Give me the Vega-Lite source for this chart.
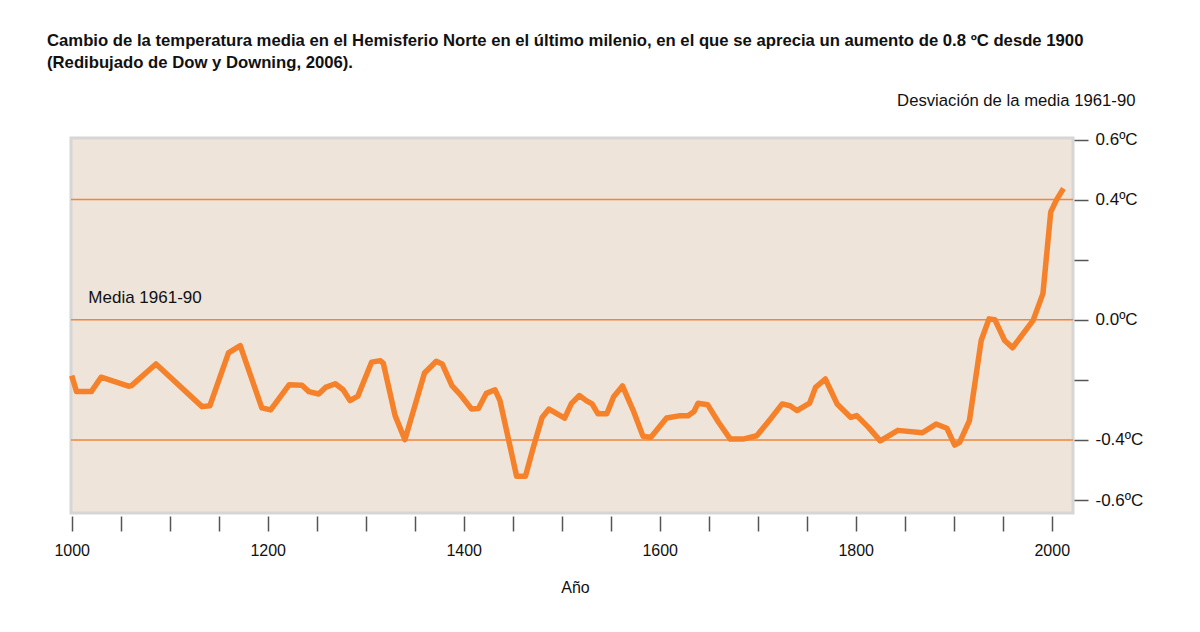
{
  "$schema": "https://vega.github.io/schema/vega-lite/v6.json",
  "autosize": {"type": "none"},
  "width": 1002,
  "height": 375,
  "padding": {"left": 71, "top": 138, "right": 127, "bottom": 119},
  "background": "#ffffff",
  "title": {
    "text": [
      "Cambio de la temperatura media en el Hemisferio Norte en el último milenio, en el que se aprecia un aumento de 0.8 ºC desde 1900",
      "(Redibujado de Dow y Downing, 2006)."
    ],
    "anchor": "start",
    "frame": "group",
    "dx": -24,
    "offset": 20,
    "font": "Liberation Sans",
    "fontSize": 16.7,
    "fontWeight": "bold",
    "color": "#111111",
    "lineHeight": 22
  },
  "config": {
    "font": "Liberation Sans",
    "view": {"fill": "#eee4d9", "stroke": "#d6d6d6", "strokeWidth": 3}
  },
  "datasets": {
    "temp": [
      {"year": 1000, "anomaly": -0.186},
      {"year": 1005, "anomaly": -0.239},
      {"year": 1020, "anomaly": -0.239},
      {"year": 1030, "anomaly": -0.191},
      {"year": 1058, "anomaly": -0.221},
      {"year": 1061, "anomaly": -0.219},
      {"year": 1086, "anomaly": -0.147},
      {"year": 1133, "anomaly": -0.289},
      {"year": 1141, "anomaly": -0.286},
      {"year": 1160, "anomaly": -0.110},
      {"year": 1172, "anomaly": -0.086},
      {"year": 1194, "anomaly": -0.293},
      {"year": 1203, "anomaly": -0.300},
      {"year": 1222, "anomaly": -0.216},
      {"year": 1235, "anomaly": -0.218},
      {"year": 1242, "anomaly": -0.239},
      {"year": 1252, "anomaly": -0.247},
      {"year": 1259, "anomaly": -0.225},
      {"year": 1269, "anomaly": -0.213},
      {"year": 1277, "anomaly": -0.233},
      {"year": 1284, "anomaly": -0.269},
      {"year": 1292, "anomaly": -0.254},
      {"year": 1306, "anomaly": -0.141},
      {"year": 1315, "anomaly": -0.136},
      {"year": 1318, "anomaly": -0.145},
      {"year": 1330, "anomaly": -0.319},
      {"year": 1340, "anomaly": -0.399},
      {"year": 1360, "anomaly": -0.177},
      {"year": 1372, "anomaly": -0.138},
      {"year": 1378, "anomaly": -0.147},
      {"year": 1388, "anomaly": -0.219},
      {"year": 1396, "anomaly": -0.247},
      {"year": 1408, "anomaly": -0.297},
      {"year": 1415, "anomaly": -0.295},
      {"year": 1423, "anomaly": -0.245},
      {"year": 1432, "anomaly": -0.233},
      {"year": 1437, "anomaly": -0.269},
      {"year": 1446, "anomaly": -0.402},
      {"year": 1454, "anomaly": -0.521},
      {"year": 1463, "anomaly": -0.521},
      {"year": 1471, "anomaly": -0.425},
      {"year": 1480, "anomaly": -0.325},
      {"year": 1487, "anomaly": -0.297},
      {"year": 1503, "anomaly": -0.327},
      {"year": 1510, "anomaly": -0.278},
      {"year": 1518, "anomaly": -0.252},
      {"year": 1525, "anomaly": -0.269},
      {"year": 1531, "anomaly": -0.280},
      {"year": 1537, "anomaly": -0.313},
      {"year": 1546, "anomaly": -0.313},
      {"year": 1553, "anomaly": -0.256},
      {"year": 1562, "anomaly": -0.220},
      {"year": 1573, "anomaly": -0.302},
      {"year": 1583, "anomaly": -0.388},
      {"year": 1591, "anomaly": -0.391},
      {"year": 1607, "anomaly": -0.327},
      {"year": 1621, "anomaly": -0.319},
      {"year": 1629, "anomaly": -0.319},
      {"year": 1635, "anomaly": -0.305},
      {"year": 1639, "anomaly": -0.278},
      {"year": 1649, "anomaly": -0.283},
      {"year": 1660, "anomaly": -0.341},
      {"year": 1672, "anomaly": -0.397},
      {"year": 1685, "anomaly": -0.397},
      {"year": 1699, "anomaly": -0.386},
      {"year": 1713, "anomaly": -0.330},
      {"year": 1725, "anomaly": -0.280},
      {"year": 1733, "anomaly": -0.286},
      {"year": 1740, "anomaly": -0.302},
      {"year": 1753, "anomaly": -0.277},
      {"year": 1759, "anomaly": -0.225},
      {"year": 1769, "anomaly": -0.197},
      {"year": 1781, "anomaly": -0.280},
      {"year": 1795, "anomaly": -0.325},
      {"year": 1801, "anomaly": -0.319},
      {"year": 1813, "anomaly": -0.358},
      {"year": 1825, "anomaly": -0.403},
      {"year": 1843, "anomaly": -0.368},
      {"year": 1868, "anomaly": -0.376},
      {"year": 1882, "anomaly": -0.347},
      {"year": 1893, "anomaly": -0.361},
      {"year": 1901, "anomaly": -0.417},
      {"year": 1906, "anomaly": -0.408},
      {"year": 1916, "anomaly": -0.336},
      {"year": 1928, "anomaly": -0.069},
      {"year": 1936, "anomaly": 0.003},
      {"year": 1942, "anomaly": 0.0},
      {"year": 1952, "anomaly": -0.069},
      {"year": 1960, "anomaly": -0.093},
      {"year": 1981, "anomaly": -0.002},
      {"year": 1991, "anomaly": 0.087},
      {"year": 1999, "anomaly": 0.359},
      {"year": 2005, "anomaly": 0.400},
      {"year": 2012, "anomaly": 0.437}
    ],
    "refs": [
      {"level": 0.4},
      {"level": 0.0},
      {"level": -0.4}
    ],
    "notes": [
      {"year": 1017, "anomaly": 0.072, "note": "Media 1961-90"}
    ]
  },
  "layer": [
    {
      "data": {"name": "refs"},
      "mark": {"type": "rule", "color": "#f3843a", "strokeWidth": 1.5},
      "encoding": {
        "y": {"field": "level", "type": "quantitative", "scale": {"domain": [-0.643, 0.605], "nice": false, "zero": false}}
      }
    },
    {
      "data": {"name": "temp"},
      "mark": {"type": "line", "color": "#f5822a", "strokeWidth": 5.5, "strokeJoin": "round"},
      "encoding": {
        "x": {
          "field": "year",
          "type": "quantitative",
          "scale": {"domain": [999.3, 2021.7], "nice": false, "zero": false},
          "axis": {
            "title": "Año",
            "titleFontSize": 16,
            "titleFontWeight": "normal",
            "titleColor": "#111111",
            "titleBaseline": "middle",
            "titleY": 71,
            "titleX": 504,
            "values": [1000, 1050, 1100, 1150, 1200, 1250, 1300, 1350, 1400, 1450, 1500, 1550, 1600, 1650, 1700, 1750, 1800, 1850, 1900, 1950, 2000],
            "labelExpr": "datum.value % 200 === 0 ? '' + datum.value : ''",
            "labelFontSize": 16,
            "labelColor": "#111111",
            "labelBaseline": "middle",
            "labelPadding": 19,
            "labelDx": 4,
            "labelFlush": false,
            "labelOverlap": false,
            "domain": false,
            "grid": false,
            "offset": 3,
            "tickSize": 15,
            "tickWidth": 1.5,
            "tickColor": "#555555"
          }
        },
        "y": {
          "field": "anomaly",
          "type": "quantitative",
          "axis": {
            "orient": "right",
            "title": "Desviación de la media 1961-90",
            "titleAngle": 0,
            "titleAlign": "right",
            "titleBaseline": "middle",
            "titleFontSize": 16.7,
            "titleFontWeight": "normal",
            "titleColor": "#111111",
            "titleX": 61,
            "titleY": -38,
            "values": [0.6, 0.5, 0.4, 0.3, 0.2, 0.1, 0, -0.1, -0.2, -0.3, -0.4, -0.5, -0.6],
            "labelExpr": "(abs(datum.value - 0.6) < 0.01 || abs(datum.value - 0.4) < 0.01 || abs(datum.value) < 0.01 || abs(datum.value + 0.4) < 0.01 || abs(datum.value + 0.6) < 0.01) ? ((datum.value < -0.001 ? '-' : '') + format(abs(datum.value), '.1f') + 'ºC') : ''",
            "labelFontSize": 17,
            "labelColor": "#111111",
            "labelPadding": 7,
            "labelFlush": false,
            "domain": false,
            "grid": false,
            "offset": 1,
            "tickSize": 14,
            "tickWidth": 1.5,
            "tickColor": "#555555"
          }
        }
      }
    },
    {
      "data": {"name": "notes"},
      "mark": {"type": "text", "align": "left", "baseline": "middle", "fontSize": 17, "color": "#111111"},
      "encoding": {
        "x": {"field": "year", "type": "quantitative"},
        "y": {"field": "anomaly", "type": "quantitative"},
        "text": {"field": "note"}
      }
    }
  ]
}
